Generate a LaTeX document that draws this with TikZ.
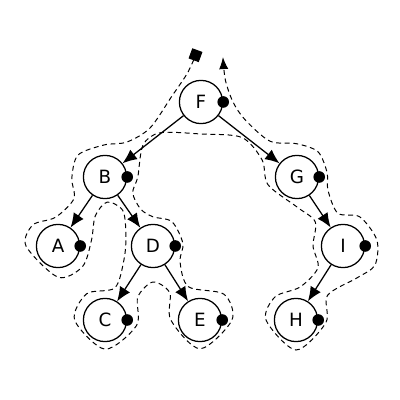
\documentclass[tikz,border=0pt]{standalone}
\usepackage{fontspec}
\setmainfont{DejaVu Sans}
\usetikzlibrary{arrows.meta, calc}
\tikzset{
>={Latex[length=3.6mm,width=3mm]}, % filled heads on the tree edges
vertex/.style={circle, draw, line width=0.9pt, minimum size=1.08cm, inner sep=0pt, font=\fontsize{13}{15}\selectfont}, % one key of the tree
visit/.style={circle, fill, minimum size=0.29cm, inner sep=0pt}, % dot where the key is visited
contour/.style={line width=0.7pt, dash pattern=on 3.5pt off 2.6pt, {Square[length=2.7mm,width=2.7mm]}-{Latex[length=3mm,width=2.3mm]}}, % walk round the tree
}

\begin{document}
\begin{tikzpicture}[line width=0.9pt]
\useasboundingbox (0,0) rectangle (10,10);
\node[vertex] (F) at (5.025,7.45) {F};
\node[vertex] (B) at (2.625,5.575) {B};
\node[vertex] (G) at (7.425,5.575) {G};
\node[vertex] (A) at (1.45,3.85) {A};
\node[vertex] (D) at (3.825,3.85) {D};
\node[vertex] (I) at (8.575,3.85) {I};
\node[vertex] (C) at (2.625,2) {C};
\node[vertex] (E) at (5.0,2) {E};
\node[vertex] (H) at (7.4,2) {H};
\foreach \a/\b in {F/B, F/G, B/A, B/D, D/C, D/E, G/I, I/H}
  \draw[->] (\a) -- (\b);
\foreach \n in {A,...,I}
  \node[visit] (\n-post) at (\n.east) {};
% postorder walk
\draw[contour] plot[smooth] coordinates {
  ($(F)+(94:1.3)$) ($(F)+(113:0.82)$) ($(F)+(170:0.75)$) ($(F)+(207:1.43)$)
  ($(B)+(58:1.03)$) ($(B)+(92:0.8)$) ($(B)+(141:0.87)$) ($(B)+(182:0.83)$) ($(B)+(215:0.95)$)
  ($(A)+(95:0.72)$) ($(A)+(140:0.82)$) ($(A)+(180:0.8)$) ($(A)+(270:0.78)$) ($(A)+(320:0.8)$)
  ($(A)+(10:0.85)$) ($(A)+(39:1.2)$)
  ($(B)+(275:0.63)$) ($(B)+(298:0.95)$)
  ($(D)+(158:0.73)$) ($(D)+(205:0.8)$)
  ($(C)+(73:0.84)$) ($(C)+(125:0.8)$) ($(C)+(180:0.76)$) ($(C)+(270:0.73)$) ($(C)+(350:0.8)$)
  ($(C)+(35:1.0)$) ($(D)+(270:0.9)$)
  ($(E)+(138:1.02)$) ($(E)+(180:0.73)$) ($(E)+(270:0.72)$) ($(E)+(0:0.8)$) ($(E)+(47:0.88)$)
  ($(D)+(311:1.35)$) ($(D)+(330:0.78)$) ($(D)+(5:0.75)$) ($(D)+(52:0.77)$) ($(D)+(90:0.73)$)
  ($(B)+(318:1.2)$) ($(B)+(330:0.8)$) ($(B)+(0:0.82)$) ($(B)+(40:1.24)$)
  ($(F)+(217:1.28)$) ($(F)+(270:0.8)$) ($(F)+(319:1.35)$)
  ($(G)+(154:0.97)$) ($(G)+(195:0.75)$) ($(G)+(270:0.75)$)
  ($(I)+(139:0.92)$) ($(I)+(180:0.75)$) ($(I)+(221:0.83)$)
  ($(H)+(83:0.83)$) ($(H)+(132:0.78)$) ($(H)+(180:0.75)$) ($(H)+(270:0.75)$) ($(H)+(355:0.75)$)
  ($(H)+(38:1.0)$)
  ($(I)+(294:0.87)$) ($(I)+(329:0.93)$) ($(I)+(10:0.86)$) ($(I)+(60:0.84)$) ($(I)+(99:0.83)$)
  ($(G)+(337:0.84)$) ($(G)+(8:0.76)$) ($(G)+(50:0.82)$) ($(G)+(90:0.83)$) ($(G)+(127:1.12)$)
  ($(F)+(338:1.19)$) ($(F)+(0:0.8)$) ($(F)+(42:0.82)$) ($(F)+(64:1.25)$)
};
\end{tikzpicture}
\end{document}
